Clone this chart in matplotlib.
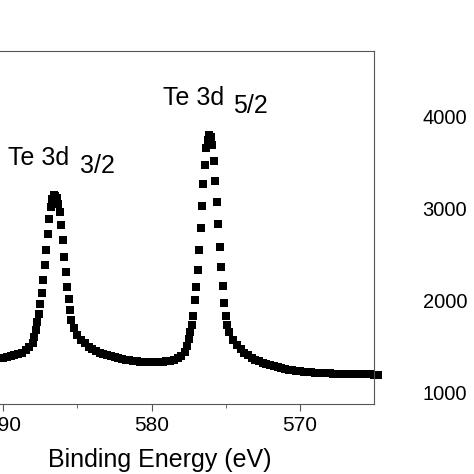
import numpy as np
import matplotlib.pyplot as plt

plt.rcParams['font.family'] = ['Liberation Sans', 'DejaVu Sans']

# Te 3d XPS spectrum (binding energy in eV, intensity in counts)
be_tail_left = np.arange(590.5, 587.99, -0.25)
cts_tail_left = [1365, 1370, 1376, 1383, 1392, 1402, 1415, 1432, 1455, 1490, 1540]

be_peak_32 = np.arange(587.9, 585.35, -0.1)
cts_peak_32 = [1600, 1680, 1760, 1850, 1960, 2080, 2220, 2380, 2550, 2720, 2880, 3010, 3100,
               3140, 3135,
               3110, 3050, 2961, 2817, 2654, 2473, 2310, 2147, 2010, 1894, 1785]

be_valley = np.arange(585.25, 577.74, -0.25)
cts_valley = [1700, 1620, 1570, 1530, 1495, 1470, 1450, 1432, 1418, 1405, 1393, 1382, 1372,
              1363, 1355, 1348, 1342, 1337, 1333, 1330, 1328, 1327, 1327, 1328, 1331, 1336,
              1344, 1356, 1373, 1398, 1440]

be_peak_52 = np.arange(577.6, 574.85, -0.1)
cts_peak_52 = [1500, 1580, 1660, 1731, 1829, 2002, 2147, 2328, 2545, 2781, 3027, 3258, 3468, 3649,
               3740, 3794, 3776, 3685,
               3515, 3298, 3070, 2824, 2574, 2357, 2154, 1966, 1829, 1731]

be_tail_right = np.arange(574.75, 564.74, -0.25)
cts_tail_right = [1650, 1570, 1510, 1465, 1430, 1400, 1375, 1355, 1338, 1322, 1308, 1295, 1283,
                  1272, 1262, 1253, 1245, 1238, 1232, 1227, 1223, 1219, 1216, 1213, 1211, 1209,
                  1207, 1205, 1204, 1203, 1202, 1201, 1200, 1199, 1198, 1197, 1196, 1195, 1194,
                  1193, 1192]

be = np.concatenate([be_tail_left, be_peak_32, be_valley, be_peak_52, be_tail_right])
cts = np.concatenate([cts_tail_left, cts_peak_32, cts_valley, cts_peak_52, cts_tail_right])

fig = plt.figure(figsize=(4.74, 4.74), dpi=100)
ax = fig.add_axes([-145 / 474, 70 / 474, 519 / 474, 353 / 474])

ax.plot(be, cts, 's', color='black', markersize=5.5, markeredgewidth=0, clip_on=False)

ax.set_xlim(600, 565)
ax.set_ylim(873, 4706)
ax.set_xticks([590, 580, 570])
ax.set_xticks([585, 575], minor=True)
ax.tick_params(axis='x', which='major', length=5, labelsize=15, direction='out', color='#555555')
ax.tick_params(axis='x', which='minor', length=3, direction='out', color='#555555')

ax.yaxis.tick_right()
ax.set_yticks([1000, 2000, 3000, 4000])
ax.tick_params(axis='y', length=0, pad=35, labelsize=14.5)

for s in ax.spines.values():
    s.set_color('#555555')

ax.set_xlabel('Binding Energy (eV)', fontsize=18, va='center')
ax.xaxis.set_label_coords(0.588, -0.159)

ax.text(579.26, 4192, 'Te 3d', fontsize=18, va='center', ha='left')
ax.text(574.5, 4109, '5/2', fontsize=18, va='center', ha='left')
ax.text(589.7, 3540, 'Te 3d', fontsize=18, va='center', ha='left')
ax.text(584.8, 3457, '3/2', fontsize=18, va='center', ha='left')

fig.savefig('out.png', dpi=100)
